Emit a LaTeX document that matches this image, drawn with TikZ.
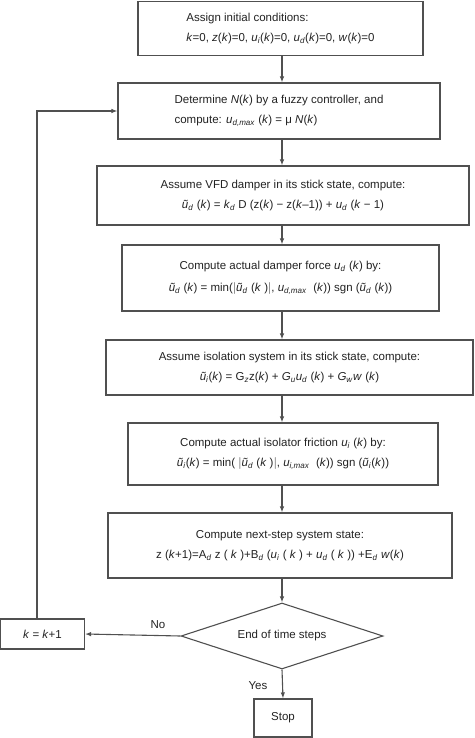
\documentclass[tikz,border=0pt]{standalone}
\usepackage{fontspec}
\setmainfont{Liberation Sans}
\usetikzlibrary{shapes.geometric,arrows.meta}
\newcommand\vi[1]{\textit{#1}}
\newcommand\sbs[1]{\textsubscript{\textit{#1}}}
\newcommand\absbar{$\bigl|$}
\definecolor{ln}{HTML}{505050}
\definecolor{tx}{HTML}{222222}
\begin{document}
\begin{tikzpicture}[x=1pt,y=-1pt,
  box/.style={draw=ln, line width=1.1pt, rectangle, inner sep=0pt, align=center, text=tx, font=\fontsize{11.5}{20}\selectfont},
  lbl/.style={text=tx, inner sep=0pt, font=\fontsize{11.5}{14}\selectfont},
  arr/.style={draw=ln, line width=1.1pt, -{Latex[length=6pt,width=4.5pt]}}]
\useasboundingbox (0,0) rectangle (474,738);
\node[box, align=left, minimum width=285, minimum height=54] (b1) at (280.5,28.5)
  {Assign initial conditions:\\
   \vi{k}=0, \vi{z}(\vi{k})=0, \vi{u}\sbs{i}(\vi{k})=0, \vi{u}\sbs{d}(\vi{k})=0, \vi{w}(\vi{k})=0};
\node[box, align=left, minimum width=322, minimum height=56] (b2) at (279,111)
  {Determine \vi{N}(\vi{k}) by a fuzzy controller, and\\
   compute: \vi{u}\sbs{d,max} (\vi{k}) = μ \vi{N}(\vi{k})};
\node[box, minimum width=372, minimum height=59] (b3) at (283,195.5)
  {Assume VFD damper in its stick state, compute:\\
   \vi{ũ}\sbs{d} (\vi{k}) = \vi{k}\sbs{d} D (z(\vi{k}) − z(\vi{k}–1)) + \vi{u}\sbs{d} (\vi{k} − 1)};
\node[box, font=\fontsize{11.5}{22}\selectfont, minimum width=317, minimum height=66] (b4) at (280.5,278)
  {Compute actual damper force \vi{u}\sbs{d} (\vi{k}) by:\\
   \vi{ũ}\sbs{d} (\vi{k}) = min(\absbar\vi{ũ}\sbs{d} (\vi{k} )\absbar, \vi{u}\sbs{d,max} ~(\vi{k})) sgn (\vi{ũ}\sbs{d} (\vi{k}))};
\node[box, minimum width=367, minimum height=55] (b5) at (289.5,367.5)
  {Assume isolation system in its stick state, compute:\\
   \vi{ũ}\sbs{i}(\vi{k}) = G\sbs{z}z(\vi{k}) + \vi{G}\sbs{u}\vi{u}\sbs{d} (\vi{k}) + \vi{G}\sbs{w}\vi{w} (\vi{k})};
\node[box, font=\fontsize{11.5}{20}\selectfont, minimum width=310, minimum height=62] (b6) at (283,454)
  {Compute actual isolator friction \vi{u}\sbs{i} (\vi{k}) by:\\
   \vi{ũ}\sbs{i}(\vi{k}) = min( \absbar\vi{ũ}\sbs{d} (\vi{k} )\absbar, \vi{u}\sbs{i,max} ~(\vi{k})) sgn (\vi{ũ}\sbs{i}(\vi{k}))};
\node[box, minimum width=344, minimum height=65] (b7) at (280,545.5)
  {Compute next-step system state:\\
   z (\vi{k}+1)=A\sbs{d} z ( \vi{k} )+B\sbs{d} (\vi{u}\sbs{i} ( \vi{k} ) + \vi{u}\sbs{d} ( \vi{k} )) +E\sbs{d} \vi{w}(\vi{k})};
\node[box, diamond, aspect=3, minimum width=202, minimum height=66] (d) at (282,636) {End of time steps};
\node[box, minimum width=84, minimum height=30] (kb) at (42.5,634) {\vi{k} = \vi{k}+1};
\node[box, minimum width=58, minimum height=38] (st) at (283,718) {Stop};
\node[lbl] (no) at (158,625) {No};
\node[lbl] (yes) at (258,686) {Yes};
\coordinate (sp) at (282,0);
\coordinate (kx) at (37,0);
\foreach \a/\b in {b1/b2,b2/b3,b3/b4,b4/b5,b5/b6,b6/b7,b7/d}
  \draw[arr] (\a.south -| sp) -- (\b.north -| sp);
\draw[arr] (d.south) -- (st.north);
\draw[arr] (d.west) -- (kb.east);
\draw[arr] (kb.north -| kx) |- (b2.west);
\end{tikzpicture}
\end{document}
